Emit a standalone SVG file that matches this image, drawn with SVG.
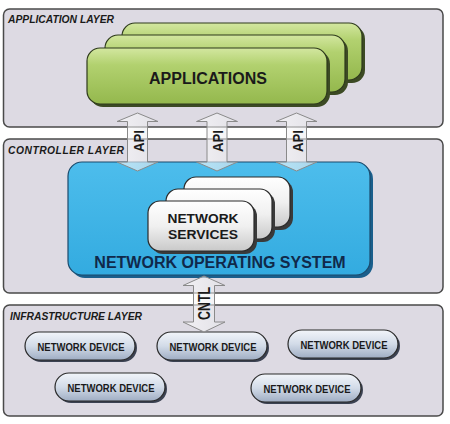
<svg xmlns="http://www.w3.org/2000/svg" width="450" height="424" viewBox="0 0 450 424">
<defs>
<linearGradient id="gGreen" x1="0" y1="0" x2="0" y2="1">
<stop offset="0" stop-color="#d3e7a0"/>
<stop offset="0.3" stop-color="#b2d16f"/>
<stop offset="1" stop-color="#94b84d"/>
</linearGradient>
<linearGradient id="gBlue" x1="0" y1="0" x2="0" y2="1">
<stop offset="0" stop-color="#4dbdec"/>
<stop offset="1" stop-color="#33abe0"/>
</linearGradient>
<linearGradient id="gSvc" x1="0" y1="0" x2="0" y2="1">
<stop offset="0" stop-color="#ffffff"/>
<stop offset="0.5" stop-color="#f0f0f0"/>
<stop offset="1" stop-color="#c9c9c9"/>
</linearGradient>
<linearGradient id="gDev" x1="0" y1="0" x2="0" y2="1">
<stop offset="0" stop-color="#f2f5fa"/>
<stop offset="0.5" stop-color="#d2dbe8"/>
<stop offset="1" stop-color="#9fadc3"/>
</linearGradient>
<linearGradient id="gArrow" x1="0" y1="0" x2="1" y2="0">
<stop offset="0" stop-color="#ffffff"/>
<stop offset="1" stop-color="#e6e6ea"/>
</linearGradient>
</defs>
<style>
.panel{fill:#dddae3;stroke:#4a4a4a;stroke-width:1.5}
.plabel{font-family:"Liberation Sans",Arial,sans-serif;font-weight:bold;font-style:italic;font-size:10.3px;fill:#1a1a1a}
.gsh{fill:#3c4a24}
.green{fill:url(#gGreen);stroke:#2e3a1c;stroke-width:1.2}
.bsh{fill:#1a5f8c}
.blue{fill:url(#gBlue);stroke:#1b4a6c;stroke-width:1.2}
.ssh{fill:#3a3a3a}
.svc{fill:url(#gSvc);stroke:#2a2a2a;stroke-width:1.2}
.dsh{fill:#3b4252}
.dev{fill:url(#gDev);stroke:#2a2a2a;stroke-width:1.2}
.arrow{fill:url(#gArrow);fill-opacity:0.6;stroke:#8a8a8a;stroke-width:1}
.t{font-family:"Liberation Sans",Arial,sans-serif;font-weight:bold;fill:#1a1a1a;text-anchor:middle}
.nos{font-family:"Liberation Sans",Arial,sans-serif;font-weight:bold;fill:#10294a;text-anchor:middle;font-size:16px}
</style>
<rect width="450" height="424" fill="#ffffff"/>

<g id="application-layer">
<rect class="panel" x="3.5" y="9" width="439.5" height="118" rx="6"/>
<text class="plabel" x="8" y="23">APPLICATION LAYER</text>
</g>
<g id="controller-layer">
<rect class="panel" x="3.5" y="139" width="439.5" height="154" rx="6"/>
<text class="plabel" x="8" y="154" letter-spacing="0.5">CONTROLLER LAYER</text>
</g>
<g id="infrastructure-layer">
<rect class="panel" x="3.5" y="305" width="439.5" height="111" rx="6"/>
<text class="plabel" x="10" y="320">INFRASTRUCTURE LAYER</text>
</g>

<g id="applications">
<rect class="gsh" x="125" y="26" width="240" height="57" rx="13"/>
<rect class="green" x="122" y="23" width="240" height="57" rx="13"/>
<rect class="gsh" x="108" y="38" width="240" height="57" rx="13"/>
<rect class="green" x="105" y="35" width="240" height="57" rx="13"/>
<rect class="gsh" x="90" y="51" width="240" height="56" rx="13"/>
<rect class="green" x="87" y="48" width="240" height="56" rx="13"/>
<text class="t" x="208" y="84" font-size="16px">APPLICATIONS</text>
</g>

<g id="network-operating-system">
<rect class="bsh" x="71" y="165" width="302" height="113" rx="14"/>
<rect class="blue" x="68" y="162" width="302" height="113" rx="14"/>
<text class="nos" x="220" y="268">NETWORK OPERATING SYSTEM</text>
</g>

<g id="network-services">
<rect class="ssh" x="187" y="180" width="106" height="50" rx="12"/>
<rect class="svc" x="184" y="177" width="106" height="50" rx="12"/>
<rect class="ssh" x="169" y="192" width="106" height="50" rx="12"/>
<rect class="svc" x="166" y="189" width="106" height="50" rx="12"/>
<rect class="ssh" x="151" y="204" width="106" height="50" rx="12"/>
<rect class="svc" x="148" y="201" width="106" height="50" rx="12"/>
<text class="t" x="203" y="223" font-size="13.5px" textLength="71" lengthAdjust="spacingAndGlyphs">NETWORK</text>
<text class="t" x="203" y="239" font-size="13.5px" textLength="70" lengthAdjust="spacingAndGlyphs">SERVICES</text>
</g>

<g id="device-1">
<rect class="dsh" x="27" y="334" width="110" height="28" rx="14"/>
<rect class="dev" x="25" y="332" width="110" height="28" rx="14"/>
<text class="t" x="81" y="350.5" font-size="11px" textLength="87" lengthAdjust="spacingAndGlyphs">NETWORK DEVICE</text>
</g>
<g id="device-2">
<rect class="dsh" x="159" y="334" width="110" height="28" rx="14"/>
<rect class="dev" x="157" y="332" width="110" height="28" rx="14"/>
<text class="t" x="213" y="350.5" font-size="11px" textLength="87" lengthAdjust="spacingAndGlyphs">NETWORK DEVICE</text>
</g>
<g id="device-3">
<rect class="dsh" x="290" y="332" width="110" height="28" rx="14"/>
<rect class="dev" x="288" y="330" width="110" height="28" rx="14"/>
<text class="t" x="344" y="348.5" font-size="11px" textLength="87" lengthAdjust="spacingAndGlyphs">NETWORK DEVICE</text>
</g>
<g id="device-4">
<rect class="dsh" x="57" y="375" width="110" height="28" rx="14"/>
<rect class="dev" x="55" y="373" width="110" height="28" rx="14"/>
<text class="t" x="111" y="391.5" font-size="11px" textLength="87" lengthAdjust="spacingAndGlyphs">NETWORK DEVICE</text>
</g>
<g id="device-5">
<rect class="dsh" x="253" y="376" width="110" height="28" rx="14"/>
<rect class="dev" x="251" y="374" width="110" height="28" rx="14"/>
<text class="t" x="307" y="392.5" font-size="11px" textLength="87" lengthAdjust="spacingAndGlyphs">NETWORK DEVICE</text>
</g>

<g id="connectors">
<path class="arrow" d="M137.5,113 L158,121.5 L147.5,121.5 L147.5,162 L158,162 L137.5,171 L117,162 L127.5,162 L127.5,121.5 L117,121.5 Z"/>
<path class="arrow" d="M217,113 L237.5,121.5 L227,121.5 L227,162 L237.5,162 L217,171 L196.5,162 L207,162 L207,121.5 L196.5,121.5 Z"/>
<path class="arrow" d="M296.5,113 L317,121.5 L306.5,121.5 L306.5,162 L317,162 L296.5,171 L276,162 L286.5,162 L286.5,121.5 L276,121.5 Z"/>
<path class="arrow" d="M204,276 L225,285.5 L214.5,285.5 L214.5,322 L225,322 L204,332 L183,322 L193.5,322 L193.5,285.5 L183,285.5 Z"/>
<text class="t" transform="translate(143.5,141) rotate(-90)" font-size="15px" textLength="22" lengthAdjust="spacingAndGlyphs">API</text>
<text class="t" transform="translate(223,141) rotate(-90)" font-size="15px" textLength="22" lengthAdjust="spacingAndGlyphs">API</text>
<text class="t" transform="translate(302.5,141) rotate(-90)" font-size="15px" textLength="22" lengthAdjust="spacingAndGlyphs">API</text>
<text class="t" transform="translate(210,303.5) rotate(-90)" font-size="16px" textLength="33" lengthAdjust="spacingAndGlyphs">CNTL</text>
</g>
</svg>
